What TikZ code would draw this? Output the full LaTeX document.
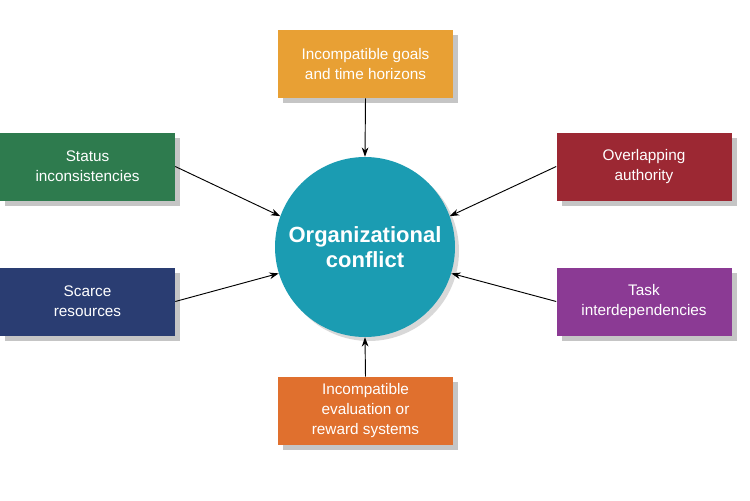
\documentclass[tikz,border=0pt]{standalone}
\usepackage{fontspec}
\setmainfont{Liberation Sans}
\usetikzlibrary{arrows.meta,shadows}
\definecolor{cA}{HTML}{E8A034}
\definecolor{cB}{HTML}{2E7B4E}
\definecolor{cC}{HTML}{2A3D72}
\definecolor{cD}{HTML}{9C2833}
\definecolor{cE}{HTML}{8B3A94}
\definecolor{cF}{HTML}{E0702E}
\definecolor{cG}{HTML}{1B9CB2}
\begin{document}
\begin{tikzpicture}[x=0.75pt,y=-0.75pt,
  box/.style={minimum width=131.25pt,minimum height=51pt,text=white,align=center,
    font=\fontsize{11.5pt}{15pt}\selectfont,inner sep=0pt,
    drop shadow={shadow xshift=4pt,shadow yshift=-4pt,fill=black!45}},
  arr/.style={-{Stealth[length=7pt,width=5pt]},line width=0.7pt}]
\path[use as bounding box] (0,0) rectangle (750,500);
\node[box,fill=cA] (t) at (365.5,64) {Incompatible goals\\and time horizons};
\node[box,fill=cB] (s) at (87.5,166.5) {Status\\inconsistencies};
\node[box,fill=cC] (r) at (87.5,301.5) {Scarce\\resources};
\node[box,fill=cD] (o) at (644,166.5) {Overlapping\\authority};
\node[box,fill=cE] (k) at (644,301.5) {Task\\interdependencies};
\node[box,fill=cF] (b) at (365.5,411) {Incompatible\\evaluation or\\reward systems};
\node[circle,fill=cG,minimum size=135pt,text=white,align=center,
  font=\bfseries\fontsize{16.5pt}{19pt}\selectfont,
  drop shadow={shadow xshift=3pt,shadow yshift=-3pt,fill=black!30}] (c) at (365,247) {Organizational\\conflict};
\draw[arr] (t.south) -- (c.north);
\draw[arr] (s.east) -- (c.160);
\draw[arr] (r.east) -- (c.197);
\draw[arr] (o.west) -- (c.20);
\draw[arr] (k.west) -- (c.-17);
\draw[arr] (b.north) -- (c.south);
\end{tikzpicture}
\end{document}
